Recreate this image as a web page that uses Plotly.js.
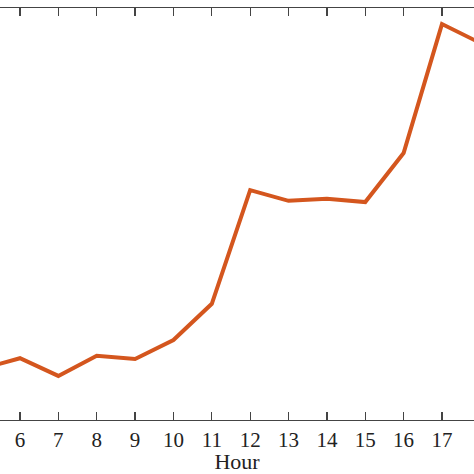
<!DOCTYPE html>
<html>
<head>
<meta charset="utf-8">
<script src="https://cdn.plot.ly/plotly-3.0.1.min.js"></script>
<style>
  html, body { margin: 0; padding: 0; background: #fff; }
  #chart { width: 474px; height: 474px; }
</style>
</head>
<body>
<div id="chart"></div>
<script>
// hourly values (arbitrary units, 0 = bottom axis)
var hours = [5, 6, 7, 8, 9, 10, 11, 12, 13, 14, 15, 16, 17, 18];
var values = [12.4, 15.0, 10.7, 15.6, 14.8, 19.4, 28.2, 55.8, 53.2, 53.7, 52.9, 64.8, 96.1, 91.5];
var tickHours = [5, 6, 7, 8, 9, 10, 11, 12, 13, 14, 15, 16, 17, 18];

var data = [{
  x: hours,
  y: values,
  type: 'scatter',
  mode: 'lines',
  line: {color: '#d4561e', width: 4},
  hoverinfo: 'x+y'
}];

var tickFont = {family: 'Liberation Serif, DejaVu Serif, serif', size: 21, color: '#222'};
var titleFont = {family: 'Liberation Serif, DejaVu Serif, serif', size: 22, color: '#222'};

var layout = {
  width: 474,
  height: 474,
  margin: {l: 0, r: 0, t: 8, b: 54, pad: 0},
  showlegend: false,
  paper_bgcolor: '#fff',
  plot_bgcolor: '#fff',
  xaxis: {
    range: [5.479, 17.835],
    tickvals: tickHours,
    ticktext: tickHours.map(String),
    ticks: 'inside',
    ticklen: 8,
    tickwidth: 1.3,
    tickcolor: '#444',
    showline: true,
    linecolor: '#444',
    linewidth: 1.3,
    mirror: 'ticks',
    showgrid: false,
    zeroline: false,
    tickfont: tickFont,
    automargin: false,
    title: {text: 'Hour', font: titleFont, standoff: 5}
  },
  yaxis: {
    range: [0, 100],
    visible: false,
    showgrid: false,
    zeroline: false
  }
};

Plotly.newPlot('chart', data, layout, {displayModeBar: false, staticPlot: true});
</script>
</body>
</html>
